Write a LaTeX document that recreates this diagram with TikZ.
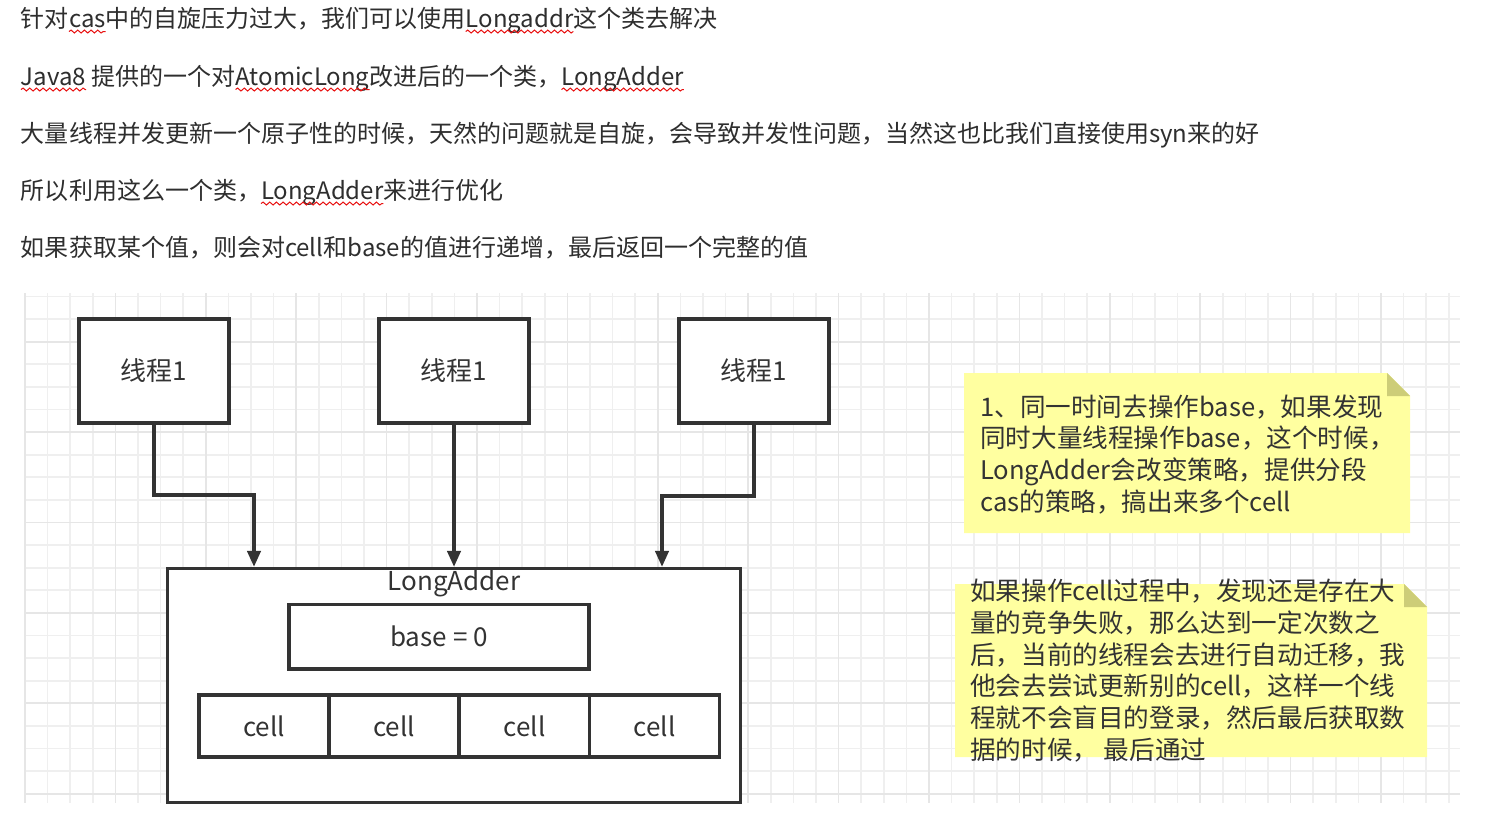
\documentclass[tikz,border=0pt]{standalone}
\usepackage{fontspec}
\setmainfont{Noto Sans CJK SC}
\usetikzlibrary{arrows.meta,decorations.pathmorphing}
\definecolor{ink}{HTML}{333333}
\definecolor{txt}{HTML}{2E2E2E}
\definecolor{gridminor}{HTML}{EFEFEF}
\definecolor{gridmajor}{HTML}{E6E6E6}
\definecolor{notefill}{HTML}{FFFFA0}
\definecolor{notefold}{HTML}{CDCD78}
\definecolor{wavered}{HTML}{E81010}
\begin{document}
\begin{tikzpicture}[x=0.75pt,y=-0.75pt,
  tl/.style={anchor=base west, inner sep=0pt, outer sep=0pt, text=txt, font=\fontsize{18}{22}\selectfont},
  wave/.style={wavered, line width=0.75pt, decorate, decoration={snake, amplitude=1.1pt, segment length=5pt}},
  box/.style={draw=ink, line width=2.5pt, fill=white, inner sep=0pt, text=ink, font=\fontsize{19.5}{23}\selectfont},
  conn/.style={draw=ink, line width=2.5pt, -{Triangle[length=12pt,width=10pt]}},
  lbl/.style={inner sep=0pt, text=ink, font=\fontsize{19.5}{23}\selectfont},
  nt/.style={anchor=base west, inner sep=0pt, text=ink, font=\fontsize{19.2}{23}\selectfont},
  gminor/.style={draw=gridminor, line width=1.3pt},
  gmajor/.style={draw=gridmajor, line width=1.3pt},
]
\useasboundingbox (0,0) rectangle (1491,832);
\fill[white] (0,0) rectangle (1491,832);

% ---- top text ----
\node[tl] (t1a) at (21,27) {针对};
\node[tl] (t1b) at (t1a.base east) {cas};
\node[tl] (t1c) at (t1b.base east) {中的自旋压力过大，我们可以使用};
\node[tl] (t1d) at (t1c.base east) {Longaddr};
\node[tl] (t1e) at (t1d.base east) {这个类去解决};

\node[tl] (t2a) at (21,85) {Java8};
\node[tl] (t2b) at (t2a.base east) {\ 提供的一个对};
\node[tl] (t2c) at (t2b.base east) {AtomicLong};
\node[tl] (t2d) at (t2c.base east) {改进后的一个类，};
\node[tl] (t2e) at (t2d.base east) {LongAdder};

\node[tl] (t3) at (21,142) {大量线程并发更新一个原子性的时候，天然的问题就是自旋，会导致并发性问题，当然这也比我们直接使用syn来的好};

\node[tl] (t4a) at (21,199) {所以利用这么一个类，};
\node[tl] (t4b) at (t4a.base east) {LongAdder};
\node[tl] (t4c) at (t4b.base east) {来进行优化};

\node[tl] (t5) at (21,256) {如果获取某个值，则会对cell和base的值进行递增，最后返回一个完整的值};

\foreach \w in {t1b,t1d,t2a,t2c,t2e,t4b}
  \draw[wave] ([yshift=-3.4pt]\w.base west) -- ([yshift=-3.4pt]\w.base east);

% ---- grid ----
\foreach \k in {0,...,63} \draw[gminor] ({25+22.6*\k},293) -- ({25+22.6*\k},803);
\foreach \k in {0,...,22} \draw[gminor] (24,{296.5+22.6*\k}) -- (1460,{296.5+22.6*\k});
\foreach \k in {0,4,...,60} \draw[gmajor] ({25+22.6*\k},293) -- ({25+22.6*\k},803);
\foreach \k in {2,6,...,22} \draw[gmajor] (24,{296.5+22.6*\k}) -- (1460,{296.5+22.6*\k});

% ---- threads ----
\node[box, minimum width=112.5pt, minimum height=78pt] (th1) at (154,371) {线程1};
\node[box, minimum width=112.5pt, minimum height=78pt] (th2) at (454,371) {线程1};
\node[box, minimum width=112.5pt, minimum height=78pt] (th3) at (754,371) {线程1};

% ---- LongAdder ----
\node[box, minimum width=430pt, minimum height=175.5pt] (la) at (454,685.5) {};
\node[lbl] (latitle) at (454,583) {LongAdder};
\node[box, minimum width=225pt, minimum height=48.5pt] (base) at (439,636.5) {base = 0};
\node[box, minimum width=97.5pt, minimum height=46.5pt] (c1) at (264,726) {cell};
\node[box, minimum width=97.5pt, minimum height=46.5pt] (c2) at (394,726) {cell};
\node[box, minimum width=97.5pt, minimum height=46.5pt] (c3) at (524.5,726) {cell};
\node[box, minimum width=97.5pt, minimum height=46.5pt] (c4) at (654.5,726) {cell};

% ---- connectors ----
\coordinate (b1) at (254,495);
\coordinate (b3) at (662,496);
\draw[conn] (th1.south) |- (b1) -- (b1 |- la.north);
\draw[conn] (th2.south) -- (th2.south |- la.north);
\draw[conn] (th3.south) |- (b3) -- (b3 |- la.north);

% ---- notes ----
\fill[notefill] (964,373) -- (1387,373) -- (1410,396) -- (1410,533) -- (964,533) -- cycle;
\fill[notefold] (1387,373) -- (1410,396) -- (1387,396) -- cycle;
\fill[notefill] (955,584) -- (1404,584) -- (1427,607) -- (1427,757) -- (955,757) -- cycle;
\fill[notefold] (1404,584) -- (1427,607) -- (1404,607) -- cycle;

\foreach \t [count=\i] in {{1、同一时间去操作base，如果发现},{同时大量线程操作base，这个时候，},{LongAdder会改变策略，提供分段},{cas的策略，搞出来多个cell}}
  \node[nt] (na\i) at (980,{416+31.7*(\i-1)}) {\t};
\foreach \t [count=\i] in {{如果操作cell过程中，发现还是存在大},{量的竞争失败，那么达到一定次数之},{后，当前的线程会去进行自动迁移，我},{他会去尝试更新别的cell，这样一个线},{程就不会盲目的登录，然后最后获取数},{据的时候，\ 最后通过}}
  \node[nt] (nb\i) at (970,{600.7+31.7*(\i-1)}) {\t};
\end{tikzpicture}
\end{document}
